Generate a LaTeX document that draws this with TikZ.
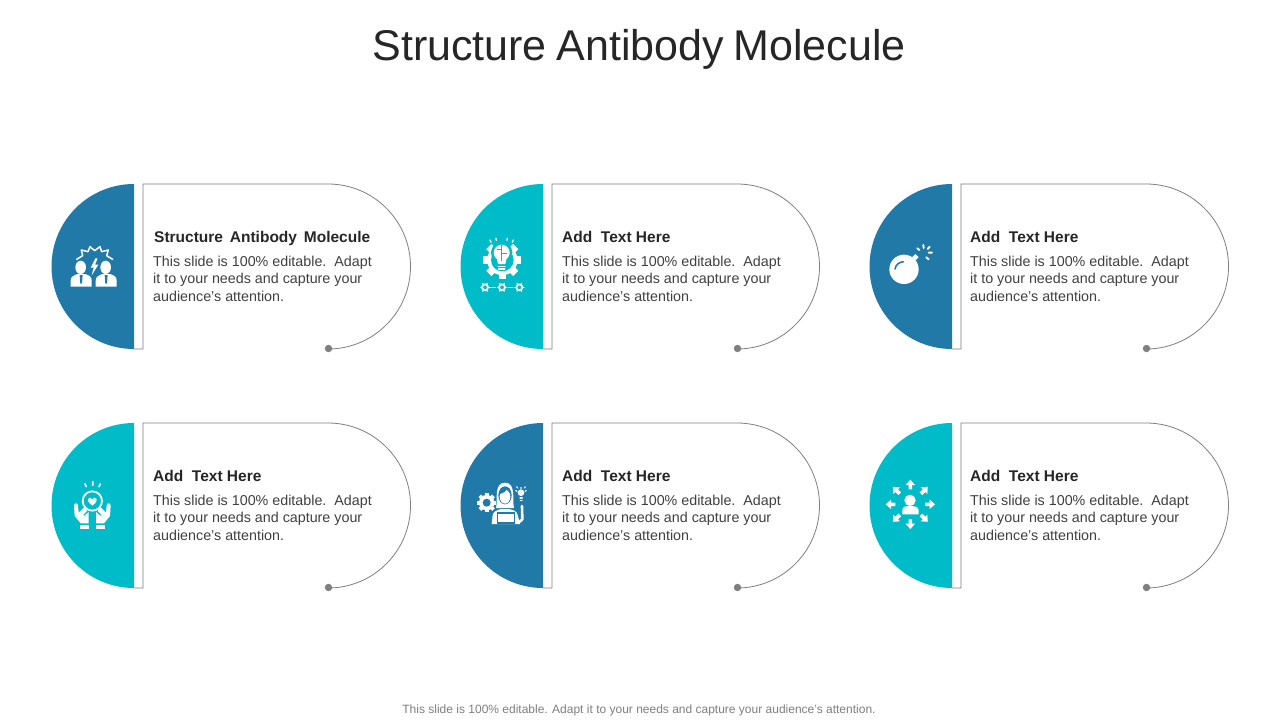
\documentclass[tikz,border=0pt]{standalone}
\usepackage{fontspec}
\setmainfont{Liberation Sans}
\definecolor{cblue}{HTML}{2179A8}
\definecolor{cteal}{HTML}{00BCC8}
\definecolor{cline}{HTML}{7F7F7F}
\definecolor{ctitle}{HTML}{262626}
\definecolor{cbody}{HTML}{404040}
\tikzset{
  titletext/.style={inner sep=0pt,text=ctitle,font=\fontsize{43}{50}\selectfont},
  headtext/.style={inner sep=0pt,anchor=base west,text=ctitle,font=\bfseries\fontsize{15.5}{18}\selectfont},
  bodytext/.style={inner sep=0pt,anchor=west,align=left,text=cbody,font=\fontsize{14.3}{17.5}\selectfont},
  foottext/.style={inner sep=0pt,text=cline,font=\fontsize{12}{14}\selectfont},
  outline/.style={draw=cline,line width=0.8pt},
  icon/.style={line cap=round,line join=round},
}
\newcommand{\cardshape}[7]{% name, x, y, colour, heading, head x, body x
  \begin{scope}[shift={(#2,#3)}]
    \fill[#4] (82,0) arc (-90:-270:82.5) -- cycle;
    \draw[outline] (82,165) -- (91,165) -- (91,0) -- (276,0) arc (-90:90:82.5);
    \fill[cline] (276.5,164.5) circle (3.7);
    \node[headtext] (#1head) at (#6,58) {#5};
    \node[bodytext] (#1body) at (#7,94.5) {This slide is 100\% editable.\ \ Adapt\\it to your needs and capture your\\audience's attention.};
  \end{scope}
}
\newcommand{\gearshape}[5]{% x,y,R,hole,colour
  \fill[white] (#1,#2) circle ({#3*0.8});
  \foreach \a in {0,45,...,315}{
    \draw[white,line width=#3*0.13pt,line cap=butt] (#1,#2) ++(\a:{#3*0.6}) -- ++(\a:{#3*0.4});
  }
  \fill[#5] (#1,#2) circle (#4);
}
\begin{document}
\begin{tikzpicture}[x=1pt,y=1pt,yscale=-1]
\useasboundingbox (0,0) rectangle (1280,720);
\fill[white] (0,0) rectangle (1280,720);
\node[titletext] (title) at (639,49) {Structure\hspace{-2.3pt} Antibody\hspace{-2.3pt} Molecule};
\node[foottext] (footer) at (639,710) {This slide is 100\% editable. Adapt it to your needs and capture your audience's attention.};

\cardshape{a}{52}{184}{cblue}{Structure\hspace{2.5pt} Antibody\hspace{2.5pt} Molecule}{102}{101}
\cardshape{b}{461}{184}{cteal}{Add\ \ Text Here}{101}{101}
\cardshape{c}{870}{184}{cblue}{Add\ \ Text Here}{100}{100}
\cardshape{d}{52}{423}{cteal}{Add\ \ Text Here}{101}{101}
\cardshape{e}{461}{423}{cblue}{Add\ \ Text Here}{101}{101}
\cardshape{f}{870}{423}{cteal}{Add\ \ Text Here}{100}{100}

% icon 1: two people and a burst
\begin{scope}[shift={(60,235)},scale=1/3,icon]
  \foreach \d in {0,75}{
    \fill[white] (32+\d,155) -- (32+\d,137) .. controls (32+\d,124) and (42+\d,122) .. (52+\d,117) -- (75+\d,117) .. controls (88+\d,122) and (95+\d,124) .. (95+\d,137) -- (95+\d,155) -- cycle;
    \fill[cblue] (59+\d,120) -- (68+\d,120) -- (66+\d,146) -- (61+\d,146) -- cycle;
    \fill[white] (62+\d,97) ellipse (16 and 20);
  }
  \draw[white,line width=1.5pt] (50,73) -- (68,62) -- (64,45) -- (84,50) -- (90,35) -- (104,47) -- (120,35) -- (125,50) -- (145,45) -- (140,62) -- (158,73);
  \fill[white] (106,70) -- (92,98) -- (101,98) -- (95,121) -- (115,89) -- (105,89) -- (113,70) -- cycle;
\end{scope}

% icon 2: bulb in gear
\begin{scope}[shift={(470,230)},scale=1/3,icon]
  \gearshape{97}{90}{57}{34}{cteal}
  \fill[cteal] (84,28) rectangle (110,45);
  \fill[cteal] (95,68) circle (32);
  \fill[white] (95,68) circle (24);
  \fill[white] (80,84) -- (110,84) -- (106,102) -- (84,102) -- cycle;
  \draw[white,line width=1.5pt] (85,109) -- (105,109) (86,117) -- (104,117);
  \draw[white,line width=1.3pt] (88,125) -- (102,125);
  \draw[cteal,line width=1pt] (95,46) -- (95,58) -- (82,58) (95,70) -- (110,70) (95,58) -- (95,92);
  \draw[white,line width=1.3pt] (60,30) -- (63,37) (78,25) -- (79,31) (112,25) -- (111,31) (130,30) -- (127,37);
  \foreach \p in {45,96,148}{
    \draw[white,line width=1.8pt] (\p,172) circle (9);
    \foreach \a in {0,60,...,300}{\draw[white,line width=1pt] (\p,172) ++(\a:9) -- ++(\a:5);}
  }
  \draw[white,line width=1.6pt] (63,172) -- (76,172) (115,172) -- (128,172);
\end{scope}

% icon 3: bomb
\begin{scope}[shift={(880,230)},scale=1/3,icon]
  \fill[white] (72,118) circle (44);
  \draw[white,line width=4.5pt,line cap=butt] (100,88) -- (111,77);
  \draw[cblue,line width=1.6pt] (45,117) .. controls (47,104) and (57,97) .. (70,95);
  \draw[white,line width=1.9pt] (112,55) -- (118,60) (130,45) -- (131,54) (149,50) -- (143,57) (156,68) -- (146,68) (146,88) -- (139,82);
\end{scope}

% icon 4: heart and hands
\begin{scope}[shift={(60,470)},scale=1/3,icon]
  \draw[white,line width=1.8pt] (97,93) circle (29);
  \fill[white] (97,107) .. controls (85,98) and (82,92) .. (84,87) .. controls (87,81) and (94,82) .. (97,88) .. controls (100,82) and (107,81) .. (110,87) .. controls (112,92) and (109,98) .. (97,107) -- cycle;
  \draw[white,line width=1.7pt] (75,42) -- (79,50) (98,35) -- (98,46) (121,42) -- (117,50);
  \foreach \s/\o in {1/0,-1/194}{
    \begin{scope}[shift={(\o,0)},xscale=\s]
      \fill[white] (42,106) .. controls (44,98) and (52,98) .. (54,106) -- (56,128) -- (72,112) .. controls (78,112) and (82,118) .. (80,124) -- (70,134) -- (72,138) -- (86,126) -- (86,160) -- (62,160) -- (44,138) -- cycle;
      \fill[white] (60,166) rectangle (86,177);
    \end{scope}
  }
\end{scope}

% icon 5: woman, laptop, gear, bulb
\begin{scope}[shift={(470,470)},scale=1/3,icon]
  \gearshape{50}{98}{29}{12}{cblue}
  \fill[white] (78,114) .. controls (84,95) and (70,38) .. (105,38) .. controls (140,38) and (126,95) .. (132,114) -- cycle;
  \fill[cblue] (105,76) ellipse (20 and 27);
  \fill[white] (105,80) ellipse (16 and 21);
  \fill[cblue] (90,72) .. controls (100,70) and (108,64) .. (112,57) .. controls (114,64) and (118,68) .. (122,70) -- (118,54) -- (92,54) -- cycle;
  \fill[white] (65,162) -- (68,135) .. controls (70,125) and (80,121) .. (92,117) -- (118,117) .. controls (130,121) and (140,122) .. (143,135) -- (150,162) -- cycle;
  \fill[cblue] (81,127) rectangle (136,162);
  \fill[white] (85,131) rectangle (132,155);
  \draw[white,line width=2.6pt] (148,156) -- (157,148) -- (156,108);
  \fill[white] (153,68) circle (10);
  \draw[white,line width=1.2pt] (150,84) -- (157,84) (151,92) -- (156,92);
  \draw[white,line width=1.1pt] (153,52) -- (153,56) (137,62) -- (141,64) (169,62) -- (165,64) (140,50) -- (143,54) (166,50) -- (163,54);
\end{scope}

% icon 6: person and arrows
\begin{scope}[shift={(880,470)},scale=1/3,icon]
  \fill[white] (90,91) circle (17);
  \fill[white] (67,133) -- (67,120) .. controls (67,110) and (78,108) .. (90,108) .. controls (102,108) and (116,110) .. (116,120) -- (116,133) -- cycle;
  \foreach \a in {0,45,...,315}{
    \begin{scope}[shift={(91,103)},rotate=\a]
      \fill[white] (45,-5.5) -- (58,-5.5) -- (58,-14) -- (74,0) -- (58,14) -- (58,5.5) -- (45,5.5) -- cycle;
    \end{scope}
  }
\end{scope}
\end{tikzpicture}
\end{document}
